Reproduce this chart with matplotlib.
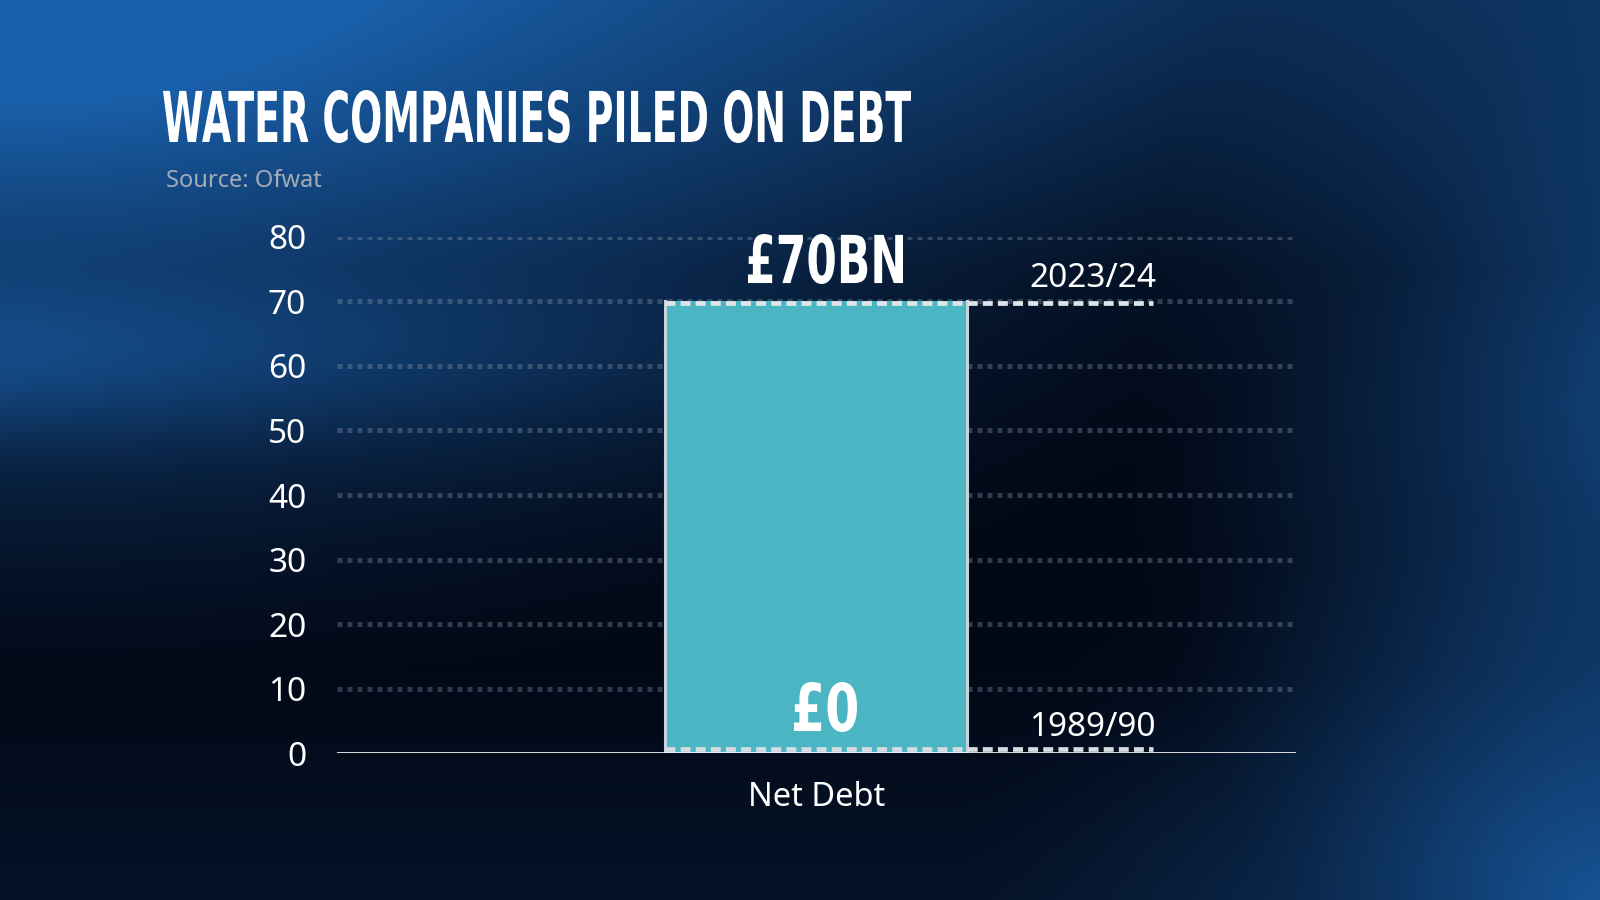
import matplotlib.pyplot as plt
import numpy as np
from matplotlib.textpath import TextPath
from matplotlib.patches import PathPatch
from matplotlib.font_manager import FontProperties
from matplotlib.transforms import Affine2D

categories = ['Net Debt']
debt_2324 = [70]
debt_8990 = [0]
year_new = '2023/24'
year_old = '1989/90'
yticks = [0, 10, 20, 30, 40, 50, 60, 70, 80]

W, H = 1600, 900
fig = plt.figure(figsize=(16, 9), dpi=100)

# background: blue top-left / right edge, dark navy centre
bg = fig.add_axes([0, 0, 1, 1])
gx, gy = np.meshgrid(np.linspace(0, 1, 400), np.linspace(0, 1, 225))
d_tl = np.hypot(gx * 0.9, (gy - 1.0) * 1.1)
d_r = np.hypot((gx - 1.05) * 1.6, (gy - 0.55) * 0.7)
d_br = np.hypot((gx - 1.0) * 1.1, gy - 0.0)
band = np.exp(-((gy - 0.6) / 0.09) ** 2) * np.clip(1 - gx / 0.55, 0, 1)
w = np.clip(1 - d_tl / 0.85, 0, 1) ** 1.2 + 0.75 * np.clip(1 - d_r / 0.55, 0, 1) ** 1.3 \
    + 0.6 * np.clip(1 - d_br / 0.45, 0, 1) ** 1.5 + 0.3 * np.clip((gy - 0.7) / 0.3, 0, 1) \
    + 0.35 * band + 0.12 * np.clip((0.25 - gy) / 0.25, 0, 1)
w = np.clip(w, 0, 1)
dark = np.array([0.01, 0.035, 0.09])
blue = np.array([0.10, 0.37, 0.66])
img = dark[None, None, :] * (1 - w[..., None]) + blue[None, None, :] * w[..., None]
bg.imshow(img, origin='lower', extent=[0, 1, 0, 1], aspect='auto')
bg.set_xlim(0, 1)
bg.set_ylim(0, 1)
bg.set_axis_off()


def fit_text(s, x0, x1, y0, y1):
    # condensed bold headline text, stretched into a pixel box
    tp = TextPath((0, 0), s, size=1, prop=FontProperties(family='DejaVu Sans', weight='bold'))
    e = tp.get_extents()
    sx = (x1 - x0) / e.width
    sy = (y1 - y0) / e.height
    tr = Affine2D().translate(-e.x0, -e.y0).scale(sx / W, sy / H).translate(x0 / W, y0 / H)
    fig.add_artist(PathPatch(tp, transform=tr + fig.transFigure, color='white', lw=0, zorder=10))


ax = fig.add_axes([0.2105, 0.163, 0.5995, 0.574])
ax.set_facecolor('none')
x = np.arange(len(categories))
bw = 0.315
bars = ax.bar(x, debt_2324, bw, color='#4bb5c4', edgecolor='none', zorder=3)
for b in bars:
    l, r = b.get_x(), b.get_x() + b.get_width()
    ax.plot([l, l], [0, b.get_height()], color='#c8d2da', lw=2.2, zorder=4)
    ax.plot([r, r], [0, b.get_height()], color='#c8d2da', lw=2.2, zorder=4)
    xend = r + 0.193
    ax.plot([l, xend], [debt_2324[0] - 0.3, debt_2324[0] - 0.3], color='#e0e5ea', lw=3.4,
            dashes=(2.1, 1.1), zorder=5)
    ax.plot([l, xend], [debt_8990[0] + 0.6, debt_8990[0] + 0.6], color='#d6dce2', lw=3.4,
            dashes=(2.1, 1.1), zorder=5)
    ax.text(x[0] + 0.288, debt_2324[0] + 1.0, year_new, color='white', fontsize=24,
            ha='center', va='bottom', family='Noto Sans')
    ax.text(x[0] + 0.288, debt_8990[0] + 1.4, year_old, color='white', fontsize=24,
            ha='center', va='bottom', family='Noto Sans')

# value labels in headline style
fit_text('£%dBN' % debt_2324[0], 748, 903, 616, 666)
fit_text('£%d' % debt_8990[0], 794, 857, 168, 218)

ax.set_xlim(-0.5, 0.5)
ax.set_ylim(0, 80)
ax.set_yticks(yticks)
ax.set_yticklabels([str(t) for t in yticks], color='white', fontsize=24, family='Noto Sans')
ax.set_xticks(x)
ax.set_xticklabels(categories, color='white', fontsize=23.5, family='Noto Sans')
ax.tick_params(length=0, pad=22, axis='y')
ax.tick_params(length=0, pad=20, axis='x')
for t in yticks[1:]:
    ax.axhline(t, color='#8a98aa', lw=3.6, dashes=(1, 1), alpha=0.35, zorder=1)
ax.axhline(0, color='white', lw=1.2, zorder=6)
for s in ax.spines.values():
    s.set_visible(False)

fit_text('WATER COMPANIES PILED ON DEBT', 163, 911, 757, 810)
fig.text(0.104, 0.792, 'Source: Ofwat', color='#a3acb6', fontsize=17, family='Noto Sans',
         va='baseline')

fig.savefig('out.png', dpi=100)
